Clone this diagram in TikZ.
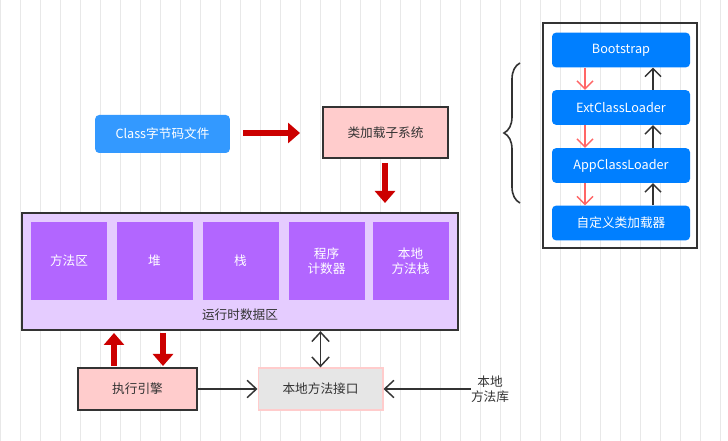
\documentclass[tikz,border=0pt]{standalone}
\usepackage{fontspec}
\setmainfont{Noto Sans CJK SC}
\usetikzlibrary{arrows.meta,decorations.pathreplacing}
\definecolor{gridc}{HTML}{E8E8E8}
\definecolor{lblue}{HTML}{3399FF}
\definecolor{dblue}{HTML}{007FFF}
\definecolor{pinkf}{HTML}{FFCCCC}
\definecolor{lilac}{HTML}{E5CCFF}
\definecolor{purp}{HTML}{B266FF}
\definecolor{greyf}{HTML}{E6E6E6}
\definecolor{redarr}{HTML}{CC0000}
\definecolor{salmon}{HTML}{FF6666}
\definecolor{ink}{HTML}{333333}
\tikzset{
  box/.style={draw=ink, line width=1.5pt, minimum height=#1, inner sep=0pt, align=center, text=ink},
  area/.style={fill=purp, text=white, minimum width=57pt, minimum height=58.5pt, align=center, inner sep=0pt},
  loader/.style={fill=dblue, rounded corners=3pt, text=white, minimum width=103.5pt, minimum height=26pt, inner sep=0pt},
  fat/.style={-{Triangle[length=9pt,width=15pt]}, redarr, line width=5pt},
  barb/.style={{Straight Barb[length=7pt,width=13pt,line width=1pt]}},
  open/.style={-{Straight Barb[length=7pt,width=13pt]}, ink, line width=1.1pt},
}
\begin{document}
\begin{tikzpicture}[x=0.75pt,y=-0.75pt,font=\fontsize{9.5}{11}\selectfont]
            \useasboundingbox (0,0) rectangle (728,441);
            \fill[white] (0,0) rectangle (728,441);
            \draw[gridc, step=20] (0,0) grid (728,441);

            \node[fill=lblue, rounded corners=3pt, text=white, minimum width=101pt, minimum height=28.5pt] (cls) at (162.5,134) {Class字节码文件};
            \node[box=38pt, fill=pinkf, minimum width=94pt] (sub) at (385.5,132.5) {类加载子系统};

            \node[box=88pt, fill=lilac, minimum width=327pt] (rt) at (240,271.5) {};
            \node[area] (m1) at (69,261) {方法区};
            \node[area] (m2) at (154.5,261) {堆};
            \node[area] (m3) at (240.5,261) {栈};
            \node[area] (m4) at (326.5,261) {程序\\计数器};
            \node[area] (m5) at (410.5,261) {本地\\方法栈};
            \node[text=ink] (rtl) at (240,315) {运行时数据区};

            \node[box=31.5pt, fill=pinkf, minimum width=89pt] (eng) at (137.5,389) {执行引擎};
            \node[draw=pinkf, line width=1pt, fill=greyf, text=ink, minimum width=93.5pt, minimum height=31.5pt] (jni) at (320.5,389) {本地方法接口};
            \node[text=ink, align=center, inner sep=0pt] (lib) at (490,389) {本地\\方法库};

            \node[draw=ink, line width=1.5pt, minimum width=115.5pt, minimum height=168.5pt] (ld) at (620,135.5) {};
            \node[loader] (l1) at (621,50) {Bootstrap};
            \node[loader] (l2) at (621,107.5) {ExtClassLoader};
            \node[loader] (l3) at (621,165.5) {AppClassLoader};
            \node[loader] (l4) at (621,223) {自定义类加载器};

            % red block arrows
            \coordinate (r0) at (243,133); \coordinate (r1) at (300,133);
            \coordinate (s0) at (385,163); \coordinate (s1) at (385,203);
            \coordinate (u0) at (114,366); \coordinate (u1) at (114,333);
            \coordinate (d0) at (163,333); \coordinate (d1) at (163,366);
            \draw[fat] (r0) -- (r1);
            \draw[fat] (s0) -- (s1);
            \draw[fat] (u0) -- (u1);
            \draw[fat] (d0) -- (d1);

            % thin connectors
            \draw[open] (eng) -- (jni);
            \draw[open] (lib) -- (jni);
            \draw[open, {Straight Barb[length=7pt,width=13pt]}-{Straight Barb[length=7pt,width=13pt]}] (rt.south -| jni.north) -- (jni.north);

            \foreach \a/\b in {l1/l2, l2/l3, l3/l4} {
              \draw[-{Straight Barb[length=6pt,width=12pt]}, salmon, line width=1.1pt] ([xshift=-27pt]\a.south) -- ([xshift=-27pt]\b.north);
              \draw[open, -{Straight Barb[length=6pt,width=12pt]}] ([xshift=24pt]\b.north) -- ([xshift=24pt]\a.south);
            }

            \draw[ink, line width=1.2pt, decoration={brace, amplitude=12pt}, decorate] (520,203) -- (520,63);
        \end{tikzpicture}
\end{document}
